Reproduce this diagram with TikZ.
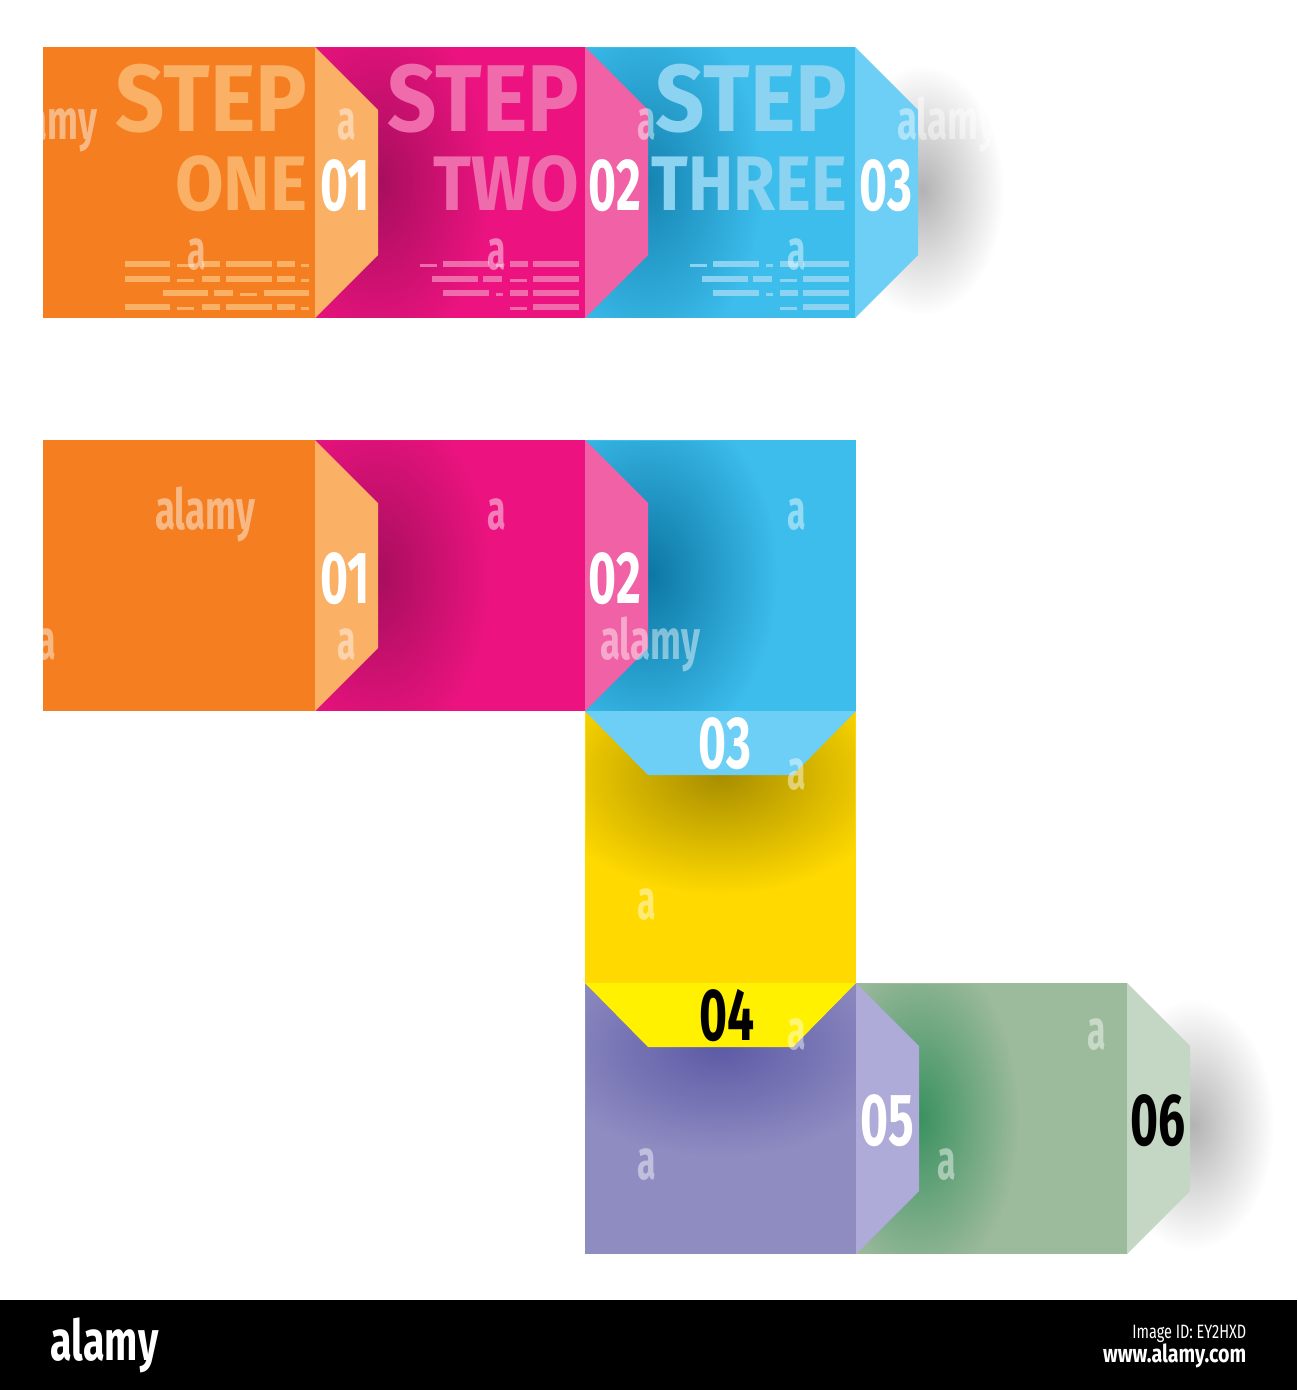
\documentclass[tikz,border=0pt]{standalone}
\usepackage{fontspec}
\setmainfont{Fira Sans}
\usetikzlibrary{fadings}

\definecolor{orangebox}{HTML}{F47E20}
\definecolor{orangetab}{HTML}{FAB065}
\definecolor{pinkbox}{HTML}{EC1380}
\definecolor{pinktab}{HTML}{F061A5}
\definecolor{pinktext}{HTML}{EF6BAB}
\definecolor{pinkdark}{HTML}{A70E5D}
\definecolor{bluebox}{HTML}{3CBDEC}
\definecolor{bluetab}{HTML}{6DCEF6}
\definecolor{bluetext}{HTML}{8CD3F2}
\definecolor{bluedark}{HTML}{0C76A3}
\definecolor{yellowbox}{HTML}{FFD900}
\definecolor{yellowtab}{HTML}{FFF100}
\definecolor{yellowdark}{HTML}{A88D00}
\definecolor{purplebox}{HTML}{8F8CC2}
\definecolor{purpletab}{HTML}{AEABD8}
\definecolor{purpledark}{HTML}{5D5AA6}
\definecolor{greenbox}{HTML}{9CBA9C}
\definecolor{greentab}{HTML}{C4D6C4}
\definecolor{greendark}{HTML}{3A9160}

\tikzfading[name=softshadow, inner color=transparent!70, outer color=transparent!100]

\tikzset{
  numlabel/.style={font=\bfseries\fontsize{21}{21}\selectfont, text=white, inner sep=0pt, anchor=base},
  steptitle/.style={font=\bfseries\fontsize{27}{27}\selectfont, inner sep=0pt, anchor=base east},
  stepname/.style={font=\bfseries\fontsize{22}{22}\selectfont, inner sep=0pt, anchor=base east},
  wmtext/.style={font=\bfseries\fontsize{16}{16}\selectfont, text=white, opacity=0.45, inner sep=0pt, anchor=base}
}

\newcommand{\narrow}[2]{\scalebox{#1}[1]{#2}}
% side tab on the right of a box, and a tab hanging below a box
\newcommand{\sidetab}[3]{\fill[#3] (#1,#2) -- ++(63,63) -- ++(0,145) -- ++(-63,63) -- cycle;}
\newcommand{\downtab}[3]{\fill[#3] (#1,#2) -- ++(271,0) -- ++(-63,64) -- ++(-145,0) -- cycle;}
\newcommand{\textbars}[3]{\foreach \xa/\xb/\yy/\hh in #3 \fill[#2] ({#1+\xa},\yy) rectangle ({#1+\xb},{\yy-\hh});}

\def\orangelines{125/170/267/6, 177/194/267/3, 202/220/267/6, 226/272/267/6, 277/295/267/6, 301/309/267/3,
  125/170/282/6, 177/194/282/3, 202/220/282/6, 226/272/282/6, 277/295/282/6, 301/309/282/3,
  163/208/296/6, 214/233/296/6, 240/257/296/3, 264/309/296/6,
  125/170/310/6, 177/194/310/3, 202/220/310/6, 226/272/310/6, 277/295/310/6, 301/309/310/3}
\def\rightlines{420/437/267/3, 443/489/267/6, 496/503/267/3, 510/528/267/6, 533/579/267/6,
  432/478/282/6, 483/502/282/6, 510/527/282/3, 533/579/282/6,
  443/489/296/6, 496/503/296/3, 510/528/296/6, 533/579/296/6,
  510/527/310/3, 533/579/310/6}

\begin{document}
\begin{tikzpicture}[x=0.1mm, y=-0.1mm]
\useasboundingbox (0,0) rectangle (1297,1390);

% soft shadows behind the end tabs
\fill[black, path fading=softshadow] (922,190) ellipse (82 and 125);
\fill[black, path fading=softshadow] (1192,1125) ellipse (82 and 125);

%%% top row
\fill[orangebox] (43,47) rectangle (315,318);
\fill[pinkbox] (315,47) rectangle (585,318);
\fill[bluebox] (585,47) rectangle (855,318);
\begin{scope}
  \clip (315,48) rectangle (585,317);
  \shade[inner color=pinkdark, outer color=pinkbox] (378,182) ellipse (115 and 180);
\end{scope}
\begin{scope}
  \clip (585,48) rectangle (855,317);
  \shade[inner color=bluedark!80!bluebox, outer color=bluebox] (648,182) ellipse (115 and 180);
\end{scope}
\sidetab{315}{47}{orangetab}
\sidetab{585}{47}{pinktab}
\sidetab{855}{47}{bluetab}

\node[steptitle, text=orangetab] (stepA) at (308,131) {\narrow{0.91}{STEP}};
\node[stepname, text=orangetab] (nameA) at (308,210) {\narrow{0.91}{ONE}};
\node[steptitle, text=pinktext] (stepB) at (580,131) {\narrow{0.91}{STEP}};
\node[stepname, text=pinktext] (nameB) at (580,210) {\narrow{0.91}{TWO}};
\node[steptitle, text=bluetext] (stepC) at (848,131) {\narrow{0.91}{STEP}};
\node[stepname, text=bluetext] (nameC) at (848,210) {\narrow{0.88}{THREE}};

\textbars{0}{orangetab}{\orangelines}
\textbars{0}{pinktext}{\rightlines}
\textbars{270}{bluetext}{\rightlines}

\node[numlabel] (topA) at (345,210) {\narrow{0.65}{01}};
\node[numlabel] (topB) at (615,210) {\narrow{0.65}{02}};
\node[numlabel] (topC) at (886,210) {\narrow{0.65}{03}};

%%% second row and the steps going down
\fill[orangebox] (43,440) rectangle (315,711);
\fill[pinkbox] (315,440) rectangle (585,711);
\fill[bluebox] (585,440) rectangle (856,711);
\fill[yellowbox] (585,711) rectangle (856,983);
\fill[purplebox] (585,983) rectangle (856,1254);
\fill[greenbox] (856,983) rectangle (1127,1254);
\begin{scope}
  \clip (315,441) rectangle (585,710);
  \shade[inner color=pinkdark, outer color=pinkbox] (378,575) ellipse (115 and 180);
\end{scope}
\begin{scope}
  \clip (585,441) rectangle (855,711);
  \shade[inner color=bluedark, outer color=bluebox] (648,575) ellipse (130 and 180);
\end{scope}
\begin{scope}
  \clip (586,711) rectangle (855,983);
  \shade[inner color=yellowdark, outer color=yellowbox] (720,775) ellipse (180 and 120);
\end{scope}
\begin{scope}
  \clip (586,983) rectangle (856,1253);
  \shade[inner color=purpledark, outer color=purplebox] (720,1047) ellipse (180 and 110);
\end{scope}
\begin{scope}
  \clip (856,984) rectangle (1127,1253);
  \shade[inner color=greendark, outer color=greenbox] (919,1118) ellipse (100 and 170);
\end{scope}
\sidetab{315}{440}{orangetab}
\sidetab{585}{440}{pinktab}
\downtab{585}{711}{bluetab}
\downtab{585}{983}{yellowtab}
\sidetab{856}{983}{purpletab}
\sidetab{1127}{983}{greentab}

\node[numlabel] (numA) at (345,603) {\narrow{0.65}{01}};
\node[numlabel] (numB) at (615,603) {\narrow{0.65}{02}};
\node[numlabel] (numC) at (725,768) {\narrow{0.65}{03}};
\node[numlabel, text=black] (numD) at (727,1040) {\narrow{0.65}{04}};
\node[numlabel] (numE) at (887,1145) {\narrow{0.65}{05}};
\node[numlabel, text=black] (numF) at (1158,1145) {\narrow{0.65}{06}};

% watermark
\foreach \wx/\wy in {347/139, 197/269, 497/269, 797/269, 647/139, 497/529, 797/529, 347/659,
  47/659, 797/789, 647/919, 797/1049, 1097/1049, 647/1179, 947/1179}
  \node[wmtext] at (\wx,\wy) {\narrow{0.6}{a}};
\node[wmtext] (wmA) at (47,139) {\narrow{0.65}{alamy}};
\node[wmtext] (wmB) at (947,139) {\narrow{0.65}{alamy}};
\node[wmtext] (wmC) at (205,529) {\narrow{0.65}{alamy}};
\node[wmtext] (wmD) at (650,659) {\narrow{0.65}{alamy}};

%%% footer
\fill[black] (0,1300) rectangle (1297,1390);
\node[font=\bfseries\fontsize{16}{16}\selectfont, text=white, inner sep=0pt, anchor=base west] (logo)
  at (50,1360) {\narrow{0.7}{alamy}};
\node[font=\fontsize{5.5}{5.5}\selectfont, text=white, inner sep=0pt, anchor=base east] (imgid)
  at (1247,1338) {\narrow{0.75}{Image ID: EY2HXD}};
\node[font=\bfseries\fontsize{7}{7}\selectfont, text=white, inner sep=0pt, anchor=base east] (site)
  at (1247,1362) {\narrow{0.8}{www.alamy.com}};
\end{tikzpicture}
\end{document}
